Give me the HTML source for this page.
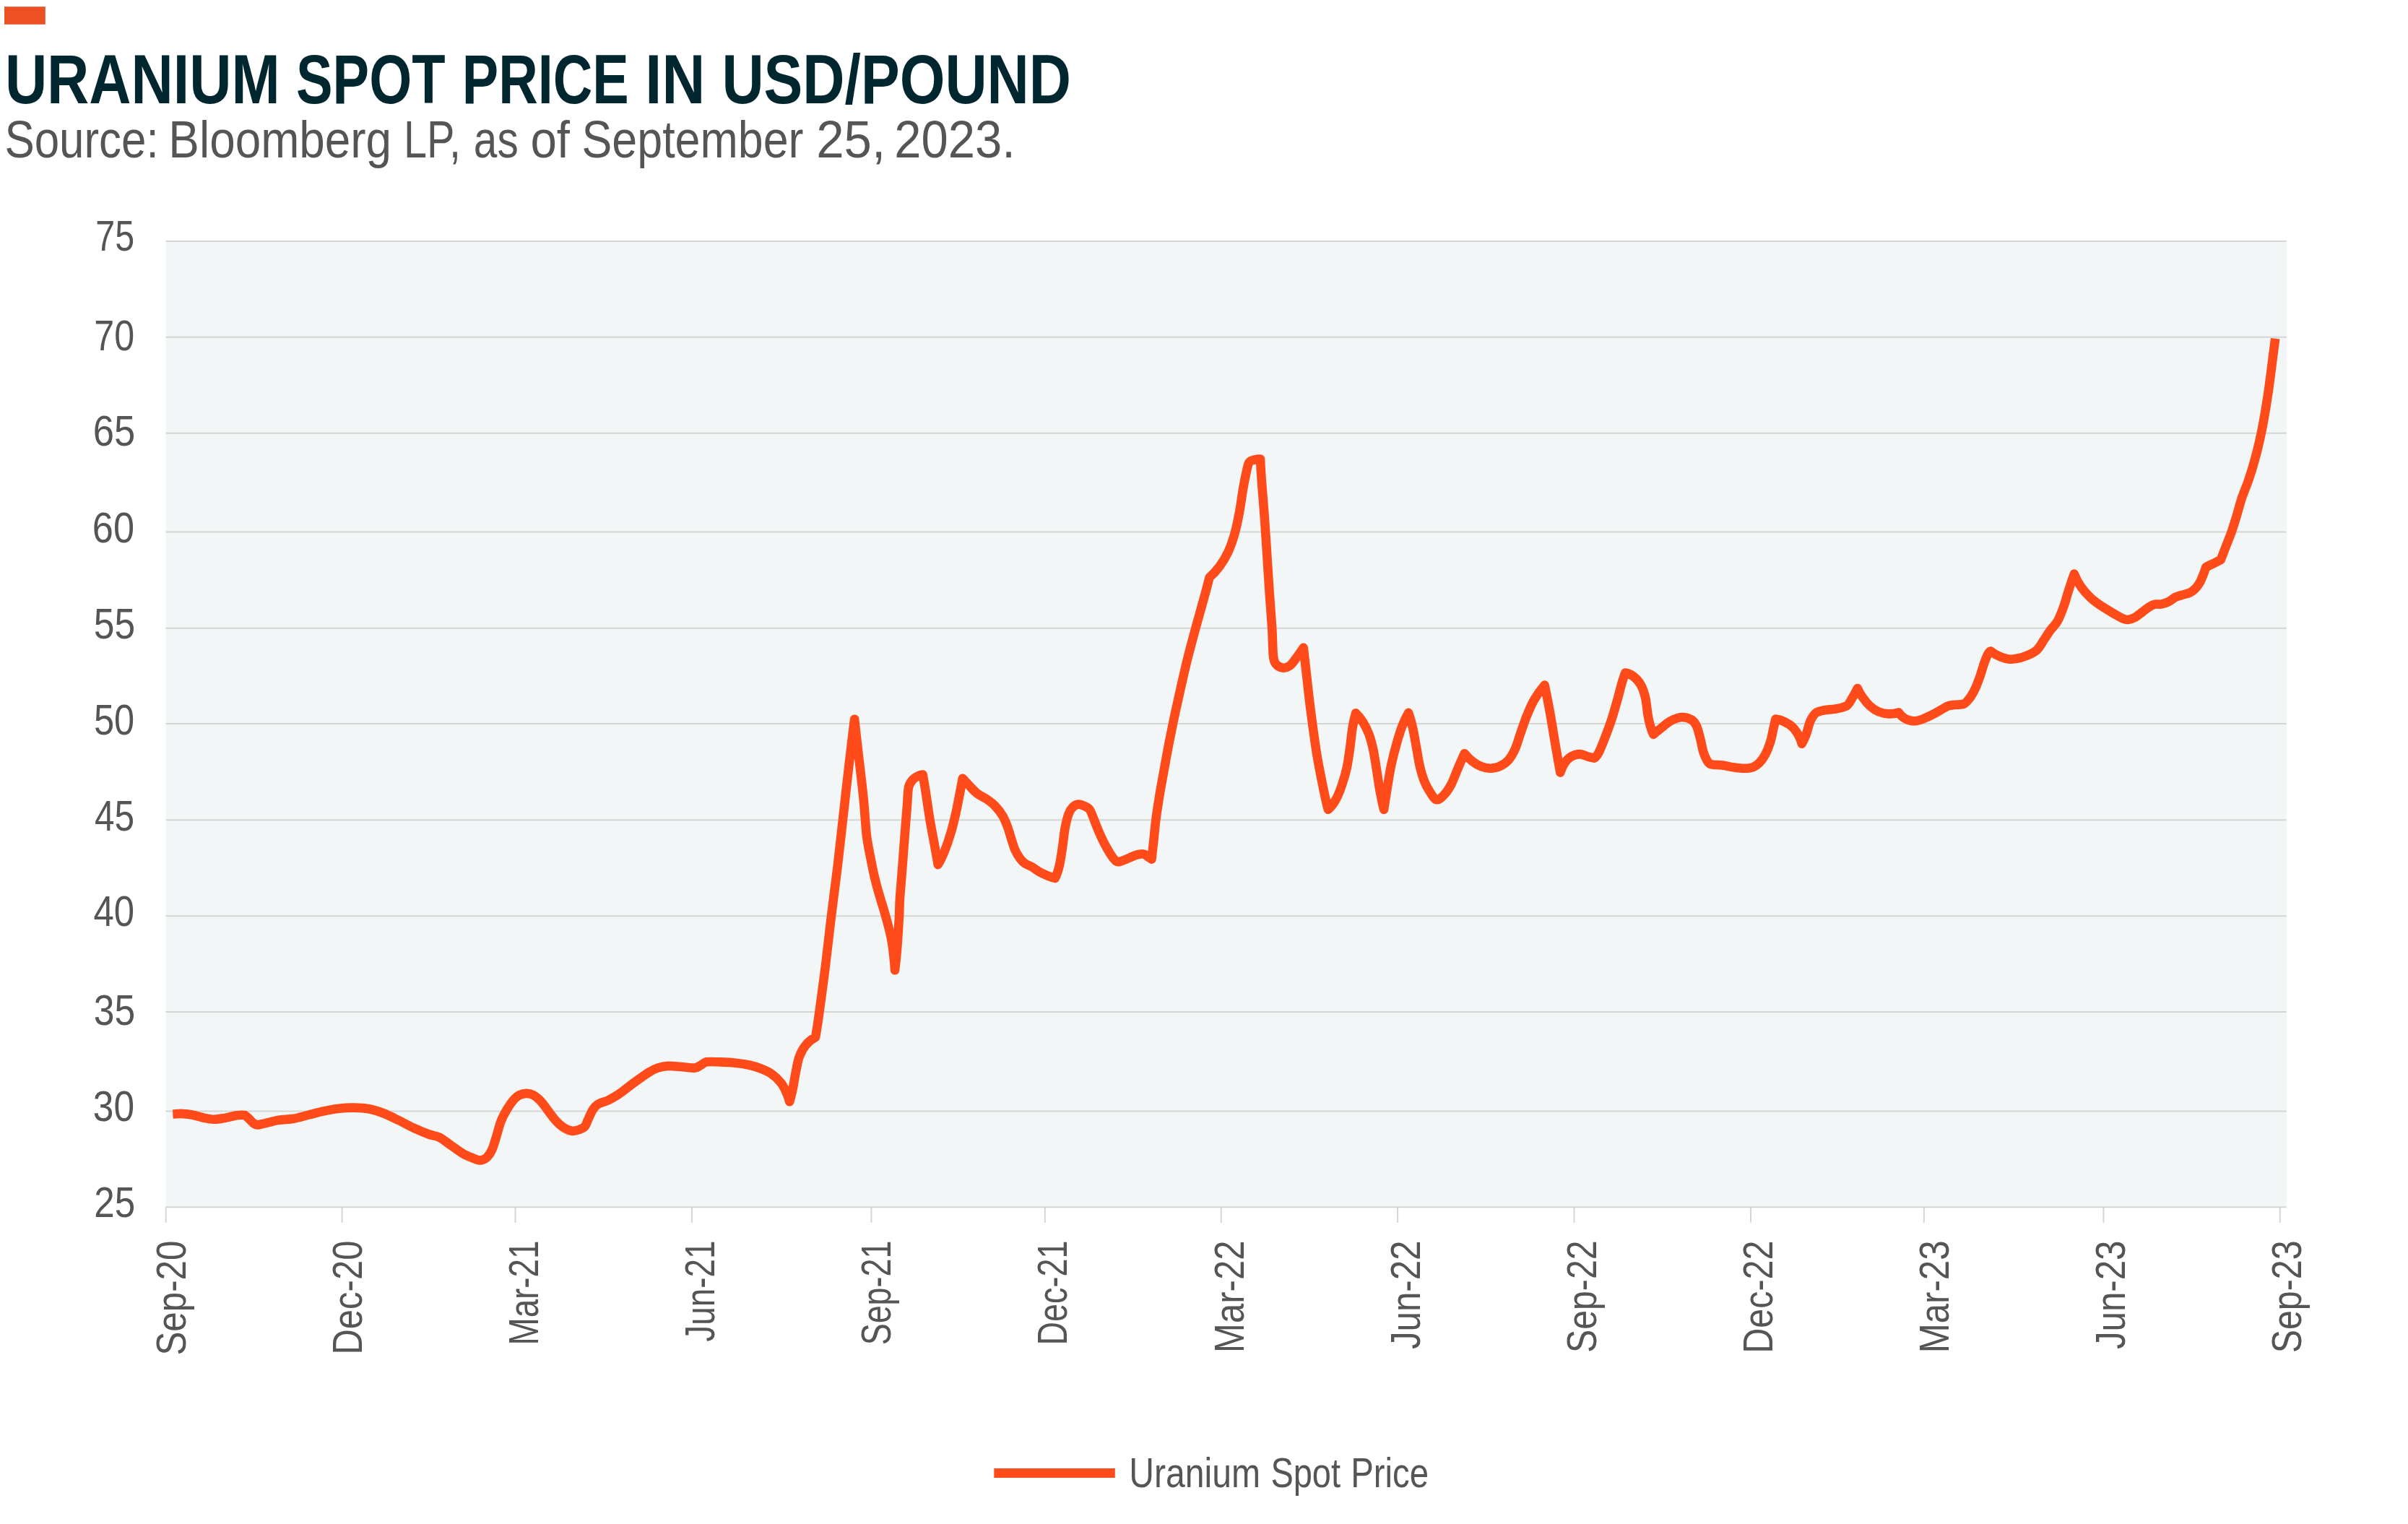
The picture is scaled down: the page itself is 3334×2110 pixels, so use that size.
<!DOCTYPE html>
<html lang="en"><head><meta charset="utf-8"><title>Uranium Spot Price in USD/Pound</title>
<style>html,body{margin:0;padding:0;background:#fff;}body{width:3334px;height:2110px;overflow:hidden;}svg{display:block;}text{font-family:"Liberation Sans",sans-serif;}</style></head><body>
<svg width="3334" height="2110" viewBox="0 0 3334 2110">
<rect x="0" y="0" width="3334" height="2110" fill="#ffffff"/>
<rect x="6" y="9.2" width="56.8" height="24.6" fill="#EE5026"/>
<text y="142.9" font-size="97.2" font-weight="bold" fill="#00262F"><tspan x="6.89" textLength="380.74" lengthAdjust="spacingAndGlyphs">URANIUM</tspan> <tspan x="409.98" textLength="206.53" lengthAdjust="spacingAndGlyphs">SPOT</tspan> <tspan x="639.82" textLength="230.78" lengthAdjust="spacingAndGlyphs">PRICE</tspan> <tspan x="893.37" textLength="82.86" lengthAdjust="spacingAndGlyphs">IN</tspan> <tspan x="999.42" textLength="483.63" lengthAdjust="spacingAndGlyphs">USD/POUND</tspan></text>
<text y="217.7" font-size="72.2" fill="#555555"><tspan x="6.39" textLength="213.32" lengthAdjust="spacingAndGlyphs">Source:</tspan> <tspan x="233.36" textLength="308.76" lengthAdjust="spacingAndGlyphs">Bloomberg</tspan> <tspan x="558.98" textLength="79.04" lengthAdjust="spacingAndGlyphs">LP,</tspan> <tspan x="655.86" textLength="61.77" lengthAdjust="spacingAndGlyphs">as</tspan> <tspan x="734.40" textLength="54.59" lengthAdjust="spacingAndGlyphs">of</tspan> <tspan x="805.47" textLength="307.04" lengthAdjust="spacingAndGlyphs">September</tspan> <tspan x="1130.13" textLength="95.93" lengthAdjust="spacingAndGlyphs">25,</tspan> <tspan x="1238.30" textLength="167.55" lengthAdjust="spacingAndGlyphs">2023.</tspan></text>
<text y="2059.1" font-size="56.7" fill="#555555"><tspan x="1563.36" textLength="181.73" lengthAdjust="spacingAndGlyphs">Uranium</tspan> <tspan x="1759.44" textLength="96.56" lengthAdjust="spacingAndGlyphs">Spot</tspan> <tspan x="1870.30" textLength="107.79" lengthAdjust="spacingAndGlyphs">Price</tspan></text>
<text y="347.4" font-size="58.6" fill="#555555"><tspan x="132.29" textLength="53.82" lengthAdjust="spacingAndGlyphs">75</tspan></text>
<text y="484.6" font-size="58.6" fill="#555555"><tspan x="130.32" textLength="55.82" lengthAdjust="spacingAndGlyphs">70</tspan></text>
<text y="616.6" font-size="58.6" fill="#555555"><tspan x="128.75" textLength="58.43" lengthAdjust="spacingAndGlyphs">65</tspan></text>
<text y="750.5" font-size="58.6" fill="#555555"><tspan x="127.87" textLength="58.25" lengthAdjust="spacingAndGlyphs">60</tspan></text>
<text y="884.0" font-size="58.6" fill="#555555"><tspan x="129.82" textLength="57.34" lengthAdjust="spacingAndGlyphs">55</tspan></text>
<text y="1016.6" font-size="58.6" fill="#555555"><tspan x="129.90" textLength="56.20" lengthAdjust="spacingAndGlyphs">50</tspan></text>
<text y="1149.8" font-size="58.6" fill="#555555"><tspan x="130.98" textLength="55.10" lengthAdjust="spacingAndGlyphs">45</tspan></text>
<text y="1282.1" font-size="58.6" fill="#555555"><tspan x="129.43" textLength="56.65" lengthAdjust="spacingAndGlyphs">40</tspan></text>
<text y="1419.3" font-size="58.6" fill="#555555"><tspan x="129.82" textLength="57.36" lengthAdjust="spacingAndGlyphs">35</tspan></text>
<text y="1551.8" font-size="58.6" fill="#555555"><tspan x="128.86" textLength="57.25" lengthAdjust="spacingAndGlyphs">30</tspan></text>
<text y="1684.8" font-size="58.6" fill="#555555"><tspan x="130.29" textLength="56.90" lengthAdjust="spacingAndGlyphs">25</tspan></text>
<rect x="229.5" y="334.0" width="2936.3" height="1337.2" fill="#F2F6F7"/>
<line x1="229.5" x2="3165.8" y1="334.0" y2="334.0" stroke="#d5d5d5" stroke-width="2"/>
<line x1="229.5" x2="3165.8" y1="466.7" y2="466.7" stroke="#d5d5d5" stroke-width="2"/>
<line x1="229.5" x2="3165.8" y1="599.8" y2="599.8" stroke="#d5d5d5" stroke-width="2"/>
<line x1="229.5" x2="3165.8" y1="736.6" y2="736.6" stroke="#d5d5d5" stroke-width="2"/>
<line x1="229.5" x2="3165.8" y1="869.7" y2="869.7" stroke="#d5d5d5" stroke-width="2"/>
<line x1="229.5" x2="3165.8" y1="1002.1" y2="1002.1" stroke="#d5d5d5" stroke-width="2"/>
<line x1="229.5" x2="3165.8" y1="1135.2" y2="1135.2" stroke="#d5d5d5" stroke-width="2"/>
<line x1="229.5" x2="3165.8" y1="1268.2" y2="1268.2" stroke="#d5d5d5" stroke-width="2"/>
<line x1="229.5" x2="3165.8" y1="1401.1" y2="1401.1" stroke="#d5d5d5" stroke-width="2"/>
<line x1="229.5" x2="3165.8" y1="1538.4" y2="1538.4" stroke="#d5d5d5" stroke-width="2"/>
<line x1="229.5" x2="3165.8" y1="1671.2" y2="1671.2" stroke="#d5d5d5" stroke-width="2"/>
<line x1="229.7" x2="229.7" y1="1671.2" y2="1692.8" stroke="#d5d5d5" stroke-width="2"/>
<line x1="473.6" x2="473.6" y1="1671.2" y2="1692.8" stroke="#d5d5d5" stroke-width="2"/>
<line x1="713.5" x2="713.5" y1="1671.2" y2="1692.8" stroke="#d5d5d5" stroke-width="2"/>
<line x1="957.9" x2="957.9" y1="1671.2" y2="1692.8" stroke="#d5d5d5" stroke-width="2"/>
<line x1="1206.4" x2="1206.4" y1="1671.2" y2="1692.8" stroke="#d5d5d5" stroke-width="2"/>
<line x1="1446.8" x2="1446.8" y1="1671.2" y2="1692.8" stroke="#d5d5d5" stroke-width="2"/>
<line x1="1690.7" x2="1690.7" y1="1671.2" y2="1692.8" stroke="#d5d5d5" stroke-width="2"/>
<line x1="1935.1" x2="1935.1" y1="1671.2" y2="1692.8" stroke="#d5d5d5" stroke-width="2"/>
<line x1="2179.5" x2="2179.5" y1="1671.2" y2="1692.8" stroke="#d5d5d5" stroke-width="2"/>
<line x1="2424" x2="2424" y1="1671.2" y2="1692.8" stroke="#d5d5d5" stroke-width="2"/>
<line x1="2663.9" x2="2663.9" y1="1671.2" y2="1692.8" stroke="#d5d5d5" stroke-width="2"/>
<line x1="2912.4" x2="2912.4" y1="1671.2" y2="1692.8" stroke="#d5d5d5" stroke-width="2"/>
<line x1="3156.8" x2="3156.8" y1="1671.2" y2="1692.8" stroke="#d5d5d5" stroke-width="2"/>
<text transform="translate(257.1,1717.5) rotate(-90)" font-size="58.2" fill="#555555" text-anchor="end" textLength="159.1" lengthAdjust="spacingAndGlyphs">Sep-20</text>
<text transform="translate(501.2,1717.5) rotate(-90)" font-size="58.2" fill="#555555" text-anchor="end" textLength="158.1" lengthAdjust="spacingAndGlyphs">Dec-20</text>
<text transform="translate(745.2,1717.5) rotate(-90)" font-size="58.2" fill="#555555" text-anchor="end" textLength="145.0" lengthAdjust="spacingAndGlyphs">Mar-21</text>
<text transform="translate(989.3,1717.5) rotate(-90)" font-size="58.2" fill="#555555" text-anchor="end" textLength="140.2" lengthAdjust="spacingAndGlyphs">Jun-21</text>
<text transform="translate(1233.4,1717.5) rotate(-90)" font-size="58.2" fill="#555555" text-anchor="end" textLength="144.8" lengthAdjust="spacingAndGlyphs">Sep-21</text>
<text transform="translate(1477.4,1717.5) rotate(-90)" font-size="58.2" fill="#555555" text-anchor="end" textLength="145.0" lengthAdjust="spacingAndGlyphs">Dec-21</text>
<text transform="translate(1721.5,1717.5) rotate(-90)" font-size="58.2" fill="#555555" text-anchor="end" textLength="155.4" lengthAdjust="spacingAndGlyphs">Mar-22</text>
<text transform="translate(1965.6,1717.5) rotate(-90)" font-size="58.2" fill="#555555" text-anchor="end" textLength="150.6" lengthAdjust="spacingAndGlyphs">Jun-22</text>
<text transform="translate(2209.7,1717.5) rotate(-90)" font-size="58.2" fill="#555555" text-anchor="end" textLength="155.4" lengthAdjust="spacingAndGlyphs">Sep-22</text>
<text transform="translate(2453.7,1717.5) rotate(-90)" font-size="58.2" fill="#555555" text-anchor="end" textLength="156.3" lengthAdjust="spacingAndGlyphs">Dec-22</text>
<text transform="translate(2697.8,1717.5) rotate(-90)" font-size="58.2" fill="#555555" text-anchor="end" textLength="155.8" lengthAdjust="spacingAndGlyphs">Mar-23</text>
<text transform="translate(2941.9,1717.5) rotate(-90)" font-size="58.2" fill="#555555" text-anchor="end" textLength="150.6" lengthAdjust="spacingAndGlyphs">Jun-23</text>
<text transform="translate(3185.9,1717.5) rotate(-90)" font-size="58.2" fill="#555555" text-anchor="end" textLength="155.8" lengthAdjust="spacingAndGlyphs">Sep-23</text>
<path d="M239.3,1542.5C243.2,1542.3 247.2,1541.8 251.1,1541.9C255.5,1542.1 260.9,1542.6 265.7,1543.5C270.9,1544.5 277.3,1546.7 282.3,1547.7C286.8,1548.6 291.3,1549.7 295.8,1549.8C300.3,1549.9 304.8,1549.1 309.3,1548.3C314.7,1547.4 323.0,1544.9 328.0,1544.2C331.8,1543.7 336.8,1543.5 339.4,1544.2C341.0,1545.4 342.9,1547.1 344.6,1548.7C346.5,1550.5 348.7,1553.5 350.8,1555.0C352.6,1556.3 354.9,1557.3 357.0,1557.5C360.5,1556.7 365.3,1555.6 369.5,1554.6C374.4,1553.5 380.5,1551.7 386.1,1550.8C392.3,1549.8 400.0,1549.9 406.9,1548.7C413.8,1547.5 420.7,1545.2 427.6,1543.5C434.5,1541.8 441.5,1539.9 448.4,1538.4C455.3,1537.0 462.3,1535.6 469.2,1534.8C476.1,1534.0 483.0,1533.5 489.9,1533.6C496.8,1533.7 503.9,1533.9 510.7,1535.2C517.6,1536.5 524.7,1538.9 531.5,1541.5C538.4,1544.2 545.4,1547.9 552.2,1551.2C559.1,1554.6 566.1,1558.6 573.0,1561.8C579.8,1565.0 587.9,1568.3 593.8,1570.5C598.5,1572.2 603.8,1572.4 608.3,1574.7C613.5,1577.3 619.4,1582.3 624.9,1586.1C630.4,1589.9 636.6,1594.7 641.5,1597.5C645.4,1599.8 650.2,1601.6 654.0,1603.1C657.4,1604.4 661.0,1606.6 664.3,1606.5C667.6,1606.4 671.1,1604.9 673.7,1602.7C676.5,1600.3 679.2,1596.1 681.0,1592.3C683.2,1587.5 685.2,1579.9 687.2,1573.7C689.3,1567.1 691.0,1559.1 693.4,1552.9C695.6,1547.1 698.6,1541.5 701.7,1536.3C704.8,1531.2 709.1,1525.1 712.1,1521.7C714.2,1519.4 716.7,1517.3 719.5,1516.0C722.3,1514.7 725.7,1513.9 728.8,1513.9C731.9,1513.9 735.3,1514.5 738.1,1516.0C741.4,1517.7 745.4,1521.1 748.5,1524.3C752.0,1527.9 755.4,1533.3 758.9,1537.8C762.4,1542.3 765.8,1547.5 769.3,1551.3C772.4,1554.7 775.9,1558.2 779.7,1560.6C783.5,1563.0 788.3,1565.3 792.1,1565.8C795.6,1566.3 799.5,1564.8 802.5,1563.8C805.1,1562.9 808.0,1561.8 809.8,1559.6C811.9,1557.0 813.2,1552.0 815.0,1548.2C816.9,1544.2 819.0,1539.0 821.2,1535.7C823.1,1532.9 825.6,1530.3 828.5,1528.5C832.0,1526.4 837.7,1525.4 842.0,1523.3C846.7,1521.0 851.9,1518.1 856.5,1515.0C862.4,1511.0 870.4,1504.4 877.3,1499.4C884.1,1494.5 892.5,1488.4 898.0,1484.9C902.0,1482.4 906.1,1480.1 910.5,1478.6C915.0,1477.1 920.1,1476.1 925.0,1475.9C930.9,1475.7 939.6,1476.8 945.8,1477.2C951.3,1477.6 958.2,1479.0 962.4,1478.6C965.5,1478.3 968.1,1475.9 970.7,1474.5C973.2,1473.2 975.2,1470.8 978.0,1470.3C982.1,1469.6 989.7,1470.1 995.6,1470.3C1002.0,1470.5 1009.5,1470.7 1016.4,1471.4C1023.3,1472.1 1030.9,1473.1 1037.1,1474.5C1042.8,1475.8 1048.6,1477.6 1053.8,1479.7C1058.8,1481.7 1063.9,1483.8 1068.3,1486.9C1072.8,1490.0 1077.4,1494.4 1080.7,1498.4C1083.8,1502.1 1086.0,1506.5 1088.0,1510.8C1090.1,1515.3 1091.9,1520.3 1093.2,1525.3C1094.6,1520.8 1096.2,1514.3 1097.4,1508.7C1098.8,1502.1 1100.0,1493.5 1101.5,1485.9C1103.0,1478.3 1104.3,1469.7 1106.7,1463.1C1108.9,1457.1 1112.3,1451.0 1116.0,1446.5C1119.5,1442.3 1124.0,1438.6 1129.0,1436.3C1130.3,1429.6 1132.8,1413.0 1134.4,1401.3C1136.7,1384.7 1140.3,1358.1 1143.0,1336.5C1145.8,1314.3 1148.2,1291.0 1151.0,1268.2C1153.8,1245.5 1156.9,1222.2 1159.6,1200.0C1162.2,1178.4 1164.5,1156.8 1166.9,1135.2C1169.5,1112.2 1172.4,1085.5 1175.1,1062.3C1177.7,1040.1 1180.5,1016.9 1183.1,995.8C1184.8,1010.6 1186.8,1028.8 1188.7,1045.3C1190.8,1063.5 1193.7,1086.5 1195.5,1105.0C1197.2,1122.0 1198.4,1143.4 1199.8,1156.2C1200.8,1164.8 1202.5,1173.2 1204.1,1181.7C1206.0,1191.5 1209.0,1206.3 1211.0,1215.0C1212.5,1221.4 1214.2,1227.8 1216.0,1234.1C1218.5,1243.0 1223.2,1257.4 1226.2,1268.2C1229.0,1278.4 1232.1,1289.8 1233.9,1298.9C1235.5,1306.8 1236.5,1315.4 1237.3,1322.8C1238.1,1329.6 1238.7,1337.0 1239.0,1343.3C1240.3,1333.1 1241.5,1320.6 1242.4,1309.2C1243.4,1296.7 1244.4,1278.7 1245.0,1268.2C1245.4,1260.8 1245.4,1253.4 1245.8,1246.0C1246.3,1237.6 1247.3,1227.3 1248.0,1218.0C1249.2,1203.0 1251.4,1173.6 1252.7,1156.2C1253.8,1142.0 1255.2,1124.6 1256.1,1113.5C1256.7,1105.5 1256.8,1095.3 1258.1,1089.6C1259.0,1085.8 1261.7,1081.9 1263.8,1079.4C1265.6,1077.3 1268.3,1075.7 1270.6,1074.6C1272.8,1073.5 1275.3,1072.8 1277.7,1072.6C1278.7,1078.0 1280.4,1088.5 1281.7,1096.5C1283.3,1107.0 1285.5,1122.9 1287.6,1135.7C1289.7,1148.2 1292.7,1163.0 1294.5,1173.2C1295.9,1181.2 1297.8,1191.4 1298.7,1197.1C1301.4,1193.1 1304.8,1185.9 1307.2,1180.0C1310.2,1172.6 1313.9,1161.8 1316.6,1152.7C1319.3,1143.7 1321.5,1134.3 1323.5,1125.5C1325.4,1117.0 1327.0,1107.9 1328.6,1099.9C1330.0,1092.5 1331.5,1084.5 1332.8,1077.7C1335.8,1081.1 1339.0,1084.6 1342.2,1087.9C1345.5,1091.3 1348.7,1095.2 1352.5,1098.2C1356.5,1101.3 1361.8,1103.4 1366.1,1106.4C1370.3,1109.3 1374.5,1112.4 1378.0,1116.1C1381.7,1120.0 1385.5,1124.9 1388.3,1129.7C1391.1,1134.5 1393.1,1139.8 1395.1,1145.1C1397.1,1150.4 1398.5,1156.0 1400.2,1161.3C1401.9,1166.4 1403.3,1172.0 1405.3,1176.6C1407.2,1180.8 1409.9,1185.5 1412.2,1188.6C1414.1,1191.2 1416.4,1193.6 1419.0,1195.4C1421.8,1197.4 1425.9,1198.6 1429.2,1200.5C1432.6,1202.5 1435.8,1205.3 1439.4,1207.3C1443.1,1209.3 1447.8,1211.4 1451.4,1212.8C1454.5,1214.0 1458.1,1215.3 1460.8,1215.9C1463.0,1211.6 1465.3,1204.7 1466.7,1198.8C1468.4,1191.7 1469.7,1181.7 1471.0,1173.2C1472.3,1164.7 1473.0,1155.3 1474.4,1147.6C1475.7,1140.7 1477.7,1132.2 1479.5,1127.2C1480.8,1123.6 1483.2,1119.6 1485.5,1117.3C1487.6,1115.3 1490.8,1113.8 1493.5,1113.6C1496.2,1113.4 1499.1,1114.8 1501.6,1115.9C1504.1,1117.0 1506.7,1118.3 1508.4,1120.5C1510.4,1123.1 1511.9,1127.8 1513.5,1131.6C1515.3,1136.0 1517.4,1141.8 1519.5,1146.9C1521.6,1152.0 1524.0,1157.6 1526.3,1162.3C1528.4,1166.7 1530.8,1171.1 1533.1,1175.1C1535.2,1178.9 1537.9,1183.4 1539.9,1186.2C1541.4,1188.3 1543.4,1191.0 1545.1,1192.1C1546.5,1193.1 1548.5,1193.3 1550.2,1193.0C1552.5,1192.6 1555.9,1191.0 1558.7,1189.9C1561.8,1188.6 1565.8,1186.5 1568.9,1185.3C1571.7,1184.2 1574.9,1183.1 1577.5,1182.7C1579.7,1182.3 1582.3,1182.1 1584.3,1182.7C1586.3,1183.3 1587.7,1185.1 1589.4,1186.2C1591.1,1187.3 1592.8,1188.5 1594.5,1189.6C1595.3,1182.2 1596.3,1173.2 1597.2,1165.0C1598.2,1156.0 1599.1,1145.2 1600.3,1135.4C1601.6,1125.4 1603.2,1115.1 1604.8,1105.0C1606.4,1094.9 1608.3,1084.9 1610.1,1074.8C1612.3,1062.5 1615.7,1043.6 1618.0,1031.5C1619.9,1021.7 1621.9,1012.0 1623.9,1002.3C1626.1,991.6 1628.8,979.1 1631.4,967.6C1634.6,953.3 1639.1,932.8 1643.1,916.5C1646.9,900.8 1651.4,884.7 1655.4,869.7C1659.3,855.3 1664.2,838.2 1667.4,826.5C1669.9,817.4 1673.0,805.6 1674.7,799.2C1679.7,795.0 1684.6,789.6 1688.7,784.0C1693.0,778.1 1697.3,770.9 1700.6,763.8C1704.0,756.4 1706.9,748.0 1709.2,739.9C1711.8,730.8 1714.1,719.5 1716.0,709.2C1718.0,698.7 1719.4,686.5 1721.1,676.8C1722.6,668.2 1724.8,657.3 1726.2,651.2C1727.1,647.4 1727.9,642.5 1729.6,640.1C1731.1,638.0 1734.0,637.4 1736.5,636.7C1739.1,635.9 1742.1,635.5 1745.0,635.5C1745.3,643.3 1746.2,657.3 1747.0,668.2C1748.0,682.2 1749.8,702.3 1751.0,719.4C1752.2,736.5 1753.3,753.5 1754.4,770.6C1755.5,787.9 1756.7,806.5 1757.8,823.0C1758.9,838.6 1760.3,855.6 1761.2,869.7C1762.0,882.4 1762.1,899.7 1762.9,907.9C1763.3,911.7 1764.2,916.2 1766.3,919.0C1768.4,921.8 1772.4,924.2 1775.7,924.6C1779.0,925.0 1783.0,923.6 1785.9,921.6C1789.0,919.4 1791.8,914.9 1794.5,911.3C1797.6,907.2 1801.4,901.7 1804.7,896.8C1805.8,906.7 1807.2,918.9 1808.5,930.0C1809.9,942.2 1811.4,956.7 1813.0,970.0C1814.6,983.3 1816.4,996.8 1818.2,1010.0C1820.0,1023.0 1821.7,1036.1 1824.0,1049.0C1826.5,1063.5 1830.8,1084.9 1833.3,1096.9C1835.0,1104.9 1837.6,1116.8 1838.9,1120.8C1842.8,1117.4 1846.7,1112.2 1849.5,1107.2C1852.7,1101.5 1855.6,1093.7 1858.0,1086.7C1860.5,1079.3 1863.0,1070.9 1864.8,1062.8C1866.6,1054.3 1867.8,1044.6 1869.1,1035.5C1870.4,1026.4 1871.2,1016.2 1872.5,1008.2C1873.7,1001.2 1875.4,993.2 1877.1,987.4C1880.6,990.7 1884.2,995.2 1887.0,999.7C1890.1,1004.6 1893.3,1010.8 1895.5,1016.8C1897.9,1023.3 1899.9,1031.4 1901.5,1038.9C1903.3,1047.7 1905.0,1059.9 1906.6,1069.6C1908.1,1078.7 1909.3,1088.4 1910.9,1096.9C1912.4,1104.9 1914.2,1113.4 1916.0,1120.8C1917.2,1112.8 1918.8,1102.6 1920.3,1093.5C1922.0,1083.3 1923.9,1070.2 1926.2,1059.4C1928.4,1049.1 1931.3,1037.8 1933.9,1028.7C1936.2,1020.6 1938.9,1011.8 1941.6,1004.8C1944.0,998.6 1947.1,991.9 1950.1,986.9C1952.2,993.0 1954.5,1001.0 1956.1,1008.2C1957.9,1016.3 1959.6,1027.0 1961.2,1035.5C1962.7,1043.5 1963.8,1052.0 1965.5,1059.4C1967.1,1066.3 1969.1,1073.9 1971.4,1079.9C1973.4,1085.2 1976.2,1090.7 1979.1,1095.2C1981.9,1099.6 1985.6,1106.4 1989.0,1107.2C1992.4,1108.0 1996.7,1103.4 1999.6,1100.3C2003.1,1096.6 2007.0,1090.4 2009.8,1085.0C2012.9,1079.0 2015.4,1071.3 2018.3,1064.5C2021.3,1057.5 2024.5,1050.3 2027.7,1043.2C2031.0,1047.3 2035.0,1051.3 2038.8,1054.3C2042.4,1057.1 2046.6,1059.5 2050.7,1061.1C2054.8,1062.6 2059.2,1063.7 2063.5,1063.7C2067.8,1063.7 2072.3,1062.9 2076.3,1061.1C2080.4,1059.2 2085.0,1056.3 2088.3,1052.6C2091.9,1048.6 2095.2,1042.7 2097.7,1037.2C2100.5,1031.0 2102.7,1022.4 2105.3,1015.1C2108.0,1007.4 2110.8,998.9 2113.9,991.2C2117.0,983.7 2120.0,976.0 2124.1,969.0C2128.2,961.9 2133.2,954.9 2138.6,948.5C2141.3,961.3 2143.9,974.7 2146.3,987.8C2148.7,1001.2 2150.8,1015.1 2153.1,1028.7C2155.4,1042.3 2157.8,1056.0 2160.3,1069.6C2161.9,1064.8 2164.2,1059.7 2166.7,1056.0C2169.0,1052.7 2171.9,1049.5 2175.3,1047.5C2178.8,1045.5 2183.5,1044.1 2187.4,1044.1C2191.3,1044.1 2195.5,1046.7 2198.8,1047.6C2201.6,1048.4 2205.0,1049.2 2207.3,1049.7C2209.3,1048.7 2212.4,1044.1 2214.1,1040.8C2216.6,1035.9 2219.9,1027.2 2222.6,1020.3C2225.4,1012.9 2228.6,1004.5 2231.2,996.5C2233.9,988.3 2236.4,979.4 2238.8,970.9C2241.2,962.4 2243.8,951.8 2245.7,945.3C2247.1,940.7 2249.2,934.2 2250.3,931.6C2254.4,932.2 2258.6,934.2 2261.9,936.8C2265.5,939.6 2269.6,944.1 2272.1,948.7C2274.8,953.5 2276.7,959.9 2278.1,965.8C2279.7,972.6 2280.4,983.1 2281.5,989.6C2282.4,994.8 2283.6,1000.5 2284.9,1005.0C2286.0,1009.1 2287.6,1013.5 2289.2,1016.9C2292.0,1014.4 2295.9,1011.1 2299.4,1008.4C2303.4,1005.3 2308.2,1000.8 2313.0,998.2C2317.8,995.7 2323.6,993.3 2328.4,993.0C2333.1,992.7 2338.6,994.5 2342.0,996.5C2345.1,998.3 2347.3,1001.7 2348.9,1005.0C2350.9,1009.2 2352.5,1016.3 2354.0,1022.0C2355.6,1028.0 2356.7,1035.7 2358.3,1040.8C2359.6,1044.9 2361.7,1049.8 2363.4,1052.7C2364.6,1054.8 2366.2,1057.2 2368.5,1057.9C2372.1,1059.1 2379.3,1058.8 2384.7,1059.6C2390.2,1060.4 2396.6,1061.9 2401.7,1062.6C2406.2,1063.2 2411.1,1063.9 2415.4,1063.8C2419.4,1063.7 2423.9,1063.4 2427.3,1062.1C2430.6,1060.9 2433.5,1058.7 2435.9,1056.2C2438.8,1053.2 2442.1,1048.5 2444.4,1044.2C2446.9,1039.4 2449.4,1033.0 2451.2,1027.2C2453.0,1021.2 2454.3,1013.7 2455.5,1008.4C2456.5,1004.1 2457.7,998.9 2458.4,995.6C2462.2,996.0 2466.4,997.3 2470.0,999.0C2473.9,1000.9 2478.5,1003.4 2481.9,1006.7C2485.3,1010.0 2488.3,1014.8 2490.4,1018.6C2492.3,1022.1 2494.0,1026.1 2494.7,1029.7C2496.7,1026.4 2499.0,1021.3 2500.7,1016.9C2502.7,1011.6 2504.3,1003.2 2506.6,998.2C2508.5,994.1 2511.0,989.6 2514.3,987.1C2517.6,984.6 2522.2,984.0 2526.3,983.2C2530.9,982.3 2536.6,982.5 2541.6,981.5C2546.7,980.5 2553.2,979.5 2557.0,977.0C2560.6,974.6 2562.2,970.1 2564.4,966.5C2566.9,962.5 2569.5,957.6 2571.8,953.0C2573.8,957.5 2576.3,961.9 2579.2,965.9C2582.1,970.0 2585.8,974.6 2589.5,977.9C2593.0,981.0 2597.1,983.8 2601.4,985.5C2605.7,987.2 2610.6,988.2 2615.1,988.4C2619.6,988.5 2624.3,987.8 2628.7,986.4C2630.8,989.7 2633.8,992.6 2637.2,994.6C2640.6,996.6 2645.0,998.2 2649.2,998.3C2653.5,998.4 2658.4,996.9 2662.8,995.3C2667.9,993.4 2674.3,990.1 2679.9,987.2C2685.6,984.2 2692.4,979.4 2696.9,977.5C2700.1,976.2 2703.8,976.3 2707.2,975.8C2710.9,975.3 2715.7,976.1 2719.1,974.5C2722.5,972.9 2725.2,969.1 2727.6,965.9C2730.2,962.5 2732.5,958.1 2734.5,954.0C2736.8,949.2 2739.2,942.7 2741.3,936.9C2743.4,930.9 2745.3,923.5 2747.2,918.2C2748.7,913.9 2750.9,908.2 2752.4,905.4C2753.3,903.8 2755.2,901.3 2756.3,901.5C2759.9,904.5 2764.2,907.0 2768.6,908.8C2773.2,910.7 2778.6,912.6 2783.9,912.7C2789.3,912.8 2795.5,911.5 2801.0,909.6C2807.0,907.5 2814.9,904.3 2819.7,900.3C2824.3,896.5 2826.9,890.3 2830.0,885.8C2832.9,881.6 2835.5,877.1 2838.5,873.0C2841.6,868.7 2846.0,865.0 2848.7,860.2C2851.8,854.7 2854.8,846.7 2857.3,839.7C2859.9,832.6 2861.7,824.9 2864.1,817.5C2866.5,810.0 2869.1,802.1 2871.8,794.5C2874.2,800.8 2877.4,806.9 2881.2,812.4C2885.0,817.9 2889.8,823.2 2894.8,827.8C2899.9,832.5 2906.2,836.8 2911.9,840.6C2917.4,844.3 2924.3,848.1 2928.9,850.8C2932.3,852.8 2936.5,855.3 2939.4,856.5C2941.6,857.4 2944.1,858.2 2946.5,858.0C2949.1,857.8 2952.5,856.7 2955.1,855.3C2958.4,853.5 2962.7,849.9 2966.1,847.4C2969.3,845.1 2972.7,842.1 2975.6,840.3C2978.1,838.8 2980.7,837.3 2983.5,836.7C2986.4,836.1 2989.8,837.0 2992.9,836.4C2996.1,835.8 2999.4,834.7 3002.4,833.2C3005.6,831.6 3008.7,828.5 3011.8,826.9C3014.8,825.4 3018.1,824.8 3021.3,823.8C3024.7,822.7 3029.2,821.9 3032.3,820.3C3035.3,818.8 3038.0,816.7 3040.2,814.3C3042.6,811.7 3044.7,808.2 3046.5,804.9C3048.3,801.5 3049.9,797.2 3051.2,793.9C3052.3,791.0 3053.5,787.7 3054.3,785.2C3057.2,783.8 3060.6,782.1 3063.8,780.5C3067.2,778.8 3071.1,776.8 3074.8,775.0C3076.9,769.3 3079.4,762.9 3081.7,756.9C3084.2,750.5 3087.2,743.5 3089.6,736.7C3092.1,729.6 3094.4,721.8 3096.7,714.3C3099.1,706.4 3101.3,697.4 3104.1,689.1C3106.9,680.7 3110.6,672.5 3113.5,664.0C3116.4,655.5 3119.1,646.7 3121.5,638.0C3123.9,629.4 3126.2,620.3 3128.1,612.0C3129.9,604.0 3131.6,596.0 3133.1,588.0C3134.6,580.0 3136.0,572.0 3137.3,564.0C3138.6,556.0 3139.8,548.0 3141.0,540.0C3142.1,532.0 3143.2,524.0 3144.2,516.0C3145.2,508.0 3146.2,499.9 3147.2,492.0C3148.2,484.3 3149.2,476.5 3150.2,468.8" fill="none" stroke="#FF4B1A" stroke-width="12.6" stroke-linejoin="round" stroke-linecap="butt"/>
<rect x="1376.3" y="2033" width="167.5" height="13" fill="#FF4B1A"/>
</svg></body></html>
